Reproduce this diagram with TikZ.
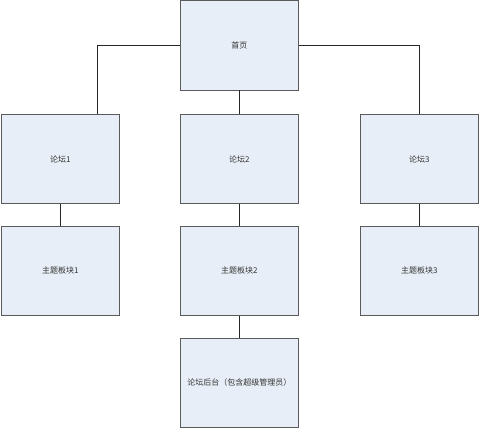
\documentclass[tikz,border=0pt]{standalone}
\usepackage{fontspec}
\newfontfamily\cjk{Noto Sans CJK SC}
\definecolor{boxfill}{HTML}{E8EEF7}
\definecolor{boxline}{HTML}{5A5A5A}
\definecolor{txt}{HTML}{333333}
\begin{document}
\begin{tikzpicture}[x=1pt,y=-1pt,
  box/.style={draw=boxline,line width=0.9pt,fill=boxfill,minimum width=118pt,minimum height=89pt,inner sep=0pt,
    font=\cjk\fontsize{8}{9}\selectfont,text=txt,anchor=north west},
  link/.style={draw=black!85,line width=0.7pt}]
\useasboundingbox (0,0) rectangle (479,428);
\node[box] (home) at (180,0.5) {首页};
\node[box] (f1) at (1,114) {论坛1};
\node[box] (f2) at (180,114) {论坛2};
\node[box] (f3) at (360,114) {论坛3};
\node[box] (b1) at (1,226) {主题板块1};
\node[box] (b2) at (180,226) {主题板块2};
\node[box] (b3) at (360,226) {主题板块3};
\node[box] (adm) at (180,338) {论坛后台（包含超级管理员）};
\draw[link] (home.west) -| ([xshift=37pt]f1.north);
\draw[link] (home.east) -| (f3.north);
\draw[link] (home.south) -- (f2.north);
\draw[link] (f1.south) -- (b1.north);
\draw[link] (f2.south) -- (b2.north);
\draw[link] (f3.south) -- (b3.north);
\draw[link] (b2.south) -- (adm.north);
\end{tikzpicture}
\end{document}
